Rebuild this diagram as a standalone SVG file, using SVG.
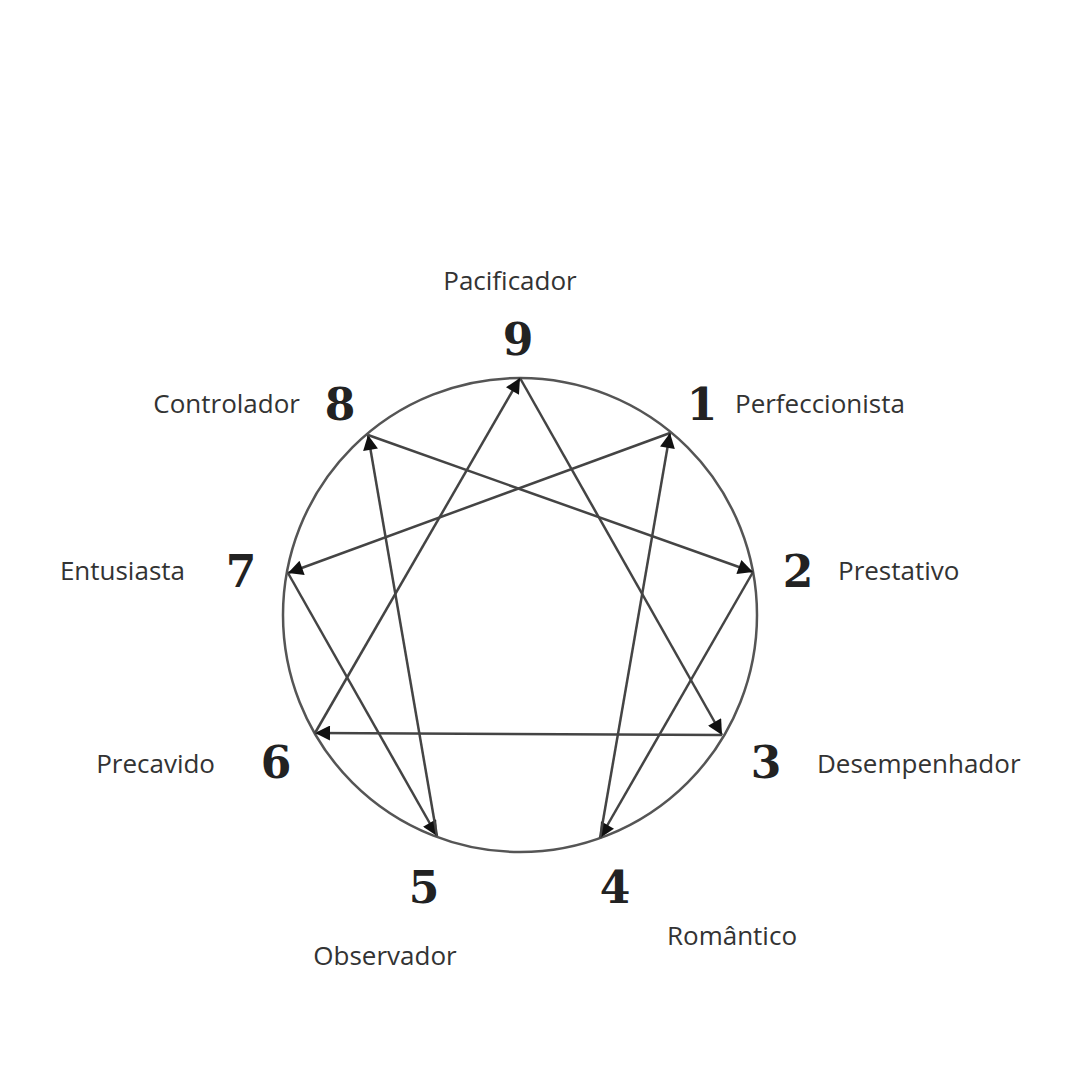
<svg xmlns="http://www.w3.org/2000/svg" width="1080" height="1080" viewBox="0 0 1080 1080">
<style>
.n{font-family:"DejaVu Serif","Liberation Serif",serif;font-size:44px;font-weight:bold;fill:#222;text-anchor:middle}
.l{font-family:"Open Sans","Liberation Sans",sans-serif;font-size:26px;fill:#333}
.c line{stroke:#444;stroke-width:2.5;marker-end:url(#a)}
</style>
<defs><marker id="a" viewBox="0 0 10 10" refX="10" refY="5" markerWidth="8" markerHeight="6" markerUnits="strokeWidth" orient="auto"><path d="M0 0L10 5L0 10z" fill="#111"/></marker></defs>
<rect width="1080" height="1080" fill="#fff"/>
<circle cx="520" cy="615" r="237" fill="none" stroke="#555" stroke-width="2.5"/>
<g class="c" id="connectors">
<line x1="520" y1="378" x2="722" y2="735"/>
<line x1="722" y1="735" x2="315" y2="733"/>
<line x1="315" y1="733" x2="520" y2="378"/>
<line x1="670" y1="433" x2="288" y2="573"/>
<line x1="288" y1="573" x2="437" y2="836"/>
<line x1="437" y1="836" x2="368" y2="435"/>
<line x1="368" y1="435" x2="753" y2="572"/>
<line x1="753" y1="572" x2="600" y2="838"/>
<line x1="600" y1="838" x2="670" y2="433"/>
</g>
<g id="n9"><text class="n" x="518" y="355">9</text><text class="l" x="510" y="290" text-anchor="middle">Pacificador</text></g>
<g id="n1"><text class="n" x="702" y="420">1</text><text class="l" x="735" y="413">Perfeccionista</text></g>
<g id="n8"><text class="n" x="340" y="420">8</text><text class="l" x="300" y="413" text-anchor="end">Controlador</text></g>
<g id="n2"><text class="n" x="798" y="587">2</text><text class="l" x="838" y="580">Prestativo</text></g>
<g id="n7"><text class="n" x="241" y="587">7</text><text class="l" x="185" y="580" text-anchor="end">Entusiasta</text></g>
<g id="n3"><text class="n" x="766" y="778">3</text><text class="l" x="817" y="773">Desempenhador</text></g>
<g id="n6"><text class="n" x="276" y="778">6</text><text class="l" x="215" y="773" text-anchor="end">Precavido</text></g>
<g id="n5"><text class="n" x="424" y="903">5</text><text class="l" x="385" y="965" text-anchor="middle">Observador</text></g>
<g id="n4"><text class="n" x="615" y="903">4</text><text class="l" x="732" y="945" text-anchor="middle">Romântico</text></g>
</svg>
